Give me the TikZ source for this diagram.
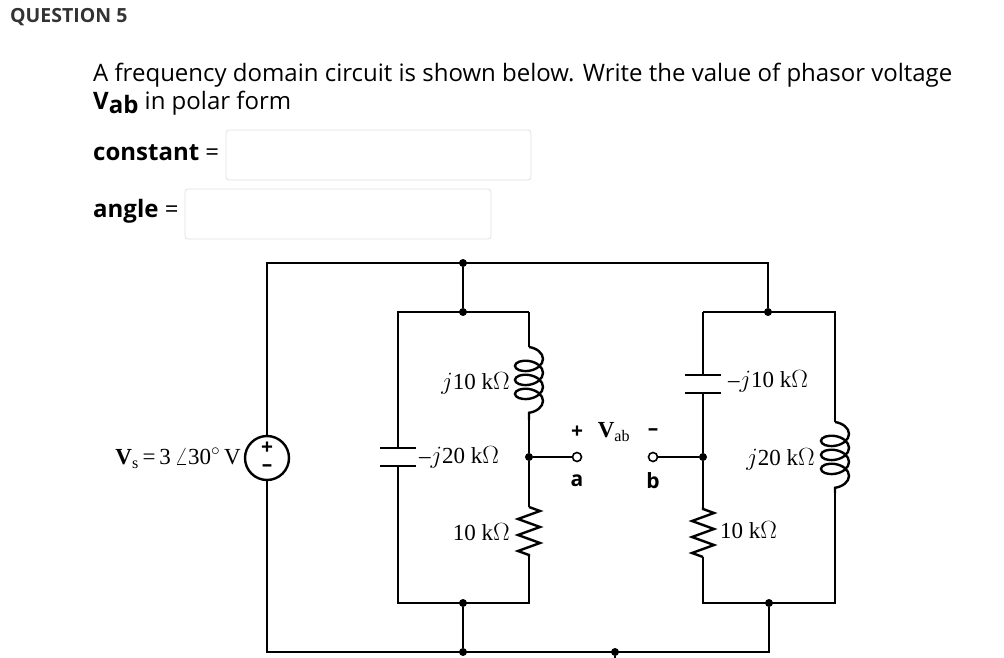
\documentclass[tikz,border=0pt]{standalone}
\usepackage{fontspec}
\setmainfont{Liberation Serif}
\newfontfamily\uifont{Open Sans}
\usetikzlibrary{decorations.pathmorphing}
\begin{document}
\begin{tikzpicture}[x=1pt,y=-1pt,
    wire/.style={line width=2.4pt},
    dot/.style={circle,fill,inner sep=0pt,minimum size=8pt},
    term/.style={circle,draw,line width=1.6pt,fill=white,inner sep=0pt,minimum size=9pt},
    ind/.style={wire,decorate,decoration={coil,amplitude=14pt,segment length=14pt,aspect=0.6}},
    res/.style={wire,decorate,decoration={zigzag,amplitude=11pt,segment length=16pt}},
    lbl/.style={font=\fontsize{23}{25}\selectfont,inner sep=1pt},
    ui/.style={font=\uifont\fontsize{24}{26}\selectfont,anchor=west,inner sep=0pt},
    sf/.style={font=\uifont\bfseries\fontsize{21}{21}\selectfont,inner sep=0pt},
    box/.style={draw=black!12,rounded corners=3pt,line width=0.8pt}]
\useasboundingbox (0,0) rectangle (1004,658);

% page text
\node[ui,font=\uifont\bfseries\fontsize{19.5}{21}\selectfont,text=black!80] (q) at (10,17) {QUESTION 5};
\node[ui] (p1) at (93,75) {A frequency domain circuit is shown below. Write the value of phasor voltage};
\node[ui] (p2) at (93,103) {\textbf{V\raisebox{-0.3ex}{ab}} in polar form};
\node[ui] (c) at (93,153) {\textbf{constant} =};
\node[ui] (an) at (93,211) {\textbf{angle} =};
\draw[box] (226,130) rectangle (531,180);
\draw[box] (185,189) rectangle (491,239);

% coordinates
\coordinate (tl) at (267,263);  \coordinate (tr) at (768,263);
\coordinate (bl) at (267,652);  \coordinate (br) at (769,652);
\coordinate (bout) at (615,660);
\coordinate (L1) at (398,312);  \coordinate (L2) at (529,312);
\coordinate (L3) at (398,603);  \coordinate (L4) at (529,603);
\coordinate (R1) at (703,312);  \coordinate (R2) at (835,312);
\coordinate (R3) at (703,603);  \coordinate (R4) at (835,603);
\node[dot] (jt) at (463,263) {};
\node[dot] (jlt) at (463,312) {};
\node[dot] (jlb) at (463,603) {};
\node[dot] (jrt) at (768,312) {};
\node[dot] (jrb) at (769,603) {};
\node[dot] (jb1) at (463,652) {};
\node[dot] (jb2) at (615,652) {};
\node[dot] (na) at (529,457) {};
\node[dot] (nb) at (703,457) {};
\node[term] (a) at (577,457) {};
\node[term] (b) at (653,457) {};

% source
\node[circle,draw,line width=2.4pt,minimum size=44pt,inner sep=0pt] (vs) at (267,458) {};
\node[sf] (vsp) at (267,448) {+};
\node[sf] (vsm) at (267,468) {\textendash};
\node[lbl,anchor=east] (vsl) at (242,458) {$\mathbf{V}_{\mathrm{s}}$\,=\,3\,$\angle$30$^\circ$\,V};

% outer loop
\draw[wire] (vs.north) -- (tl) -- (tr) -- (jrt);
\draw[wire] (vs.south) -- (bl) -- (br) -- (jrb);
\draw[wire] (jt) -- (jlt);
\draw[wire] (jlb) -- (jb1);
\draw[wire] (jb2) -- (bout);

% left block
\draw[wire] (L2) -- (L1) -- (398,448);
\draw[wire] (380,448) -- (416,448);
\draw[wire] (380,466) -- (416,466);
\draw[wire] (398,466) -- (L3) -- (L4) -- (529,557);
\draw[wire] (L2) -- (529,347);
\draw[ind] (529,347) -- (529,420);
\draw[wire] (529,420) -- (na) -- (529,507);
\draw[res] (529,507) -- (529,557);
\draw[wire] (na) -- (a);

% right block
\draw[wire] (R1) -- (R2) -- (835,422);
\draw[ind] (835,422) -- (835,493);
\draw[wire] (835,493) -- (R4) -- (R3) -- (703,557);
\draw[res] (703,557) -- (703,507);
\draw[wire] (703,507) -- (nb) -- (703,393);
\draw[wire] (685,393) -- (721,393);
\draw[wire] (685,375) -- (721,375);
\draw[wire] (703,375) -- (R1);
\draw[wire] (b) -- (nb);

% labels
\node[lbl,anchor=east] (l1) at (511,383) {$j$10 k$\Omega$};
\node[lbl,anchor=west] (l2) at (418,457) {--$j$20 k$\Omega$};
\node[lbl,anchor=east] (l3) at (511,532) {10 k$\Omega$};
\node[lbl,anchor=west] (l4) at (727,381) {--$j$10 k$\Omega$};
\node[lbl,anchor=east] (l5) at (816,459) {$j$20 k$\Omega$};
\node[lbl,anchor=west] (l6) at (719,530) {10 k$\Omega$};
\node[sf] (pl) at (577,432) {+};
\node[lbl] (vab) at (614,432) {$\mathbf{V}_{\mathrm{ab}}$};
\node[sf] (mi) at (653,432) {\textendash};
\node[sf] (la) at (577,481) {a};
\node[sf] (lb) at (653,481) {b};
\end{tikzpicture}
\end{document}
